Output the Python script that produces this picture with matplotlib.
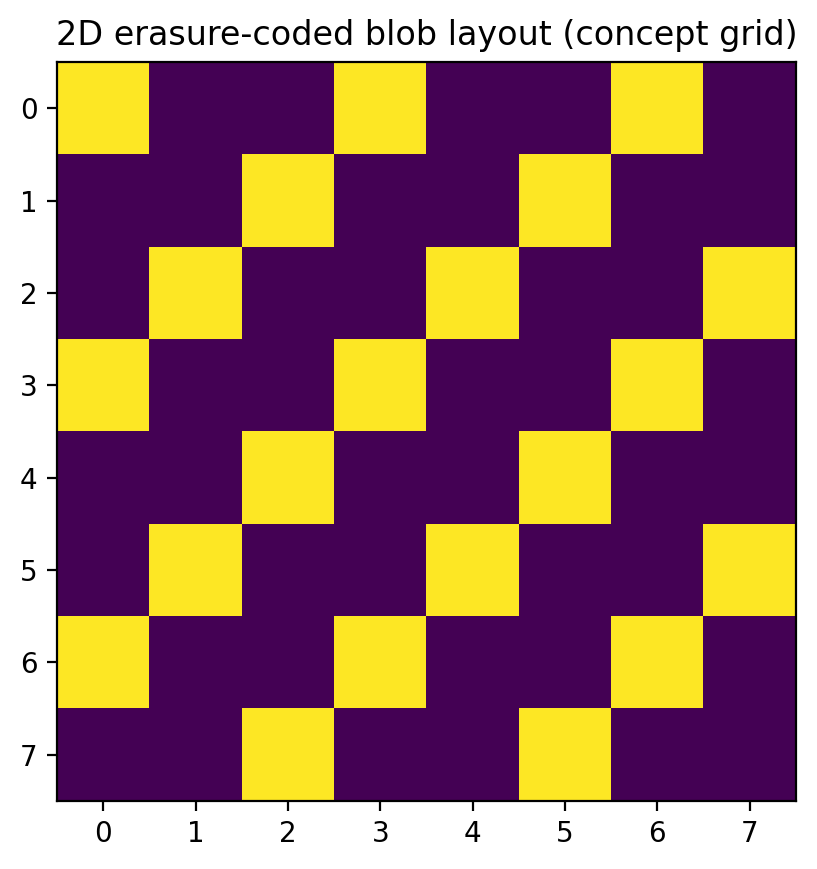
import numpy as np
import matplotlib
matplotlib.use("Agg")
import matplotlib.pyplot as plt

# 1 = blob placed, 0 = empty
grid = [
    [1, 0, 0, 1, 0, 0, 1, 0],
    [0, 0, 1, 0, 0, 1, 0, 0],
    [0, 1, 0, 0, 1, 0, 0, 1],
    [1, 0, 0, 1, 0, 0, 1, 0],
    [0, 0, 1, 0, 0, 1, 0, 0],
    [0, 1, 0, 0, 1, 0, 0, 1],
    [1, 0, 0, 1, 0, 0, 1, 0],
    [0, 0, 1, 0, 0, 1, 0, 0],
]
title = "2D erasure-coded blob layout (concept grid)"

fig = plt.figure(figsize=(817 / 200, 869 / 200), dpi=200)
ax = fig.add_axes([57 / 817, 68 / 869, 739 / 817, 739 / 869])
ax.imshow(np.array(grid), cmap="viridis", aspect="equal")
ax.set_title(title, fontsize=12)
fig.savefig("out.png", dpi=200)
